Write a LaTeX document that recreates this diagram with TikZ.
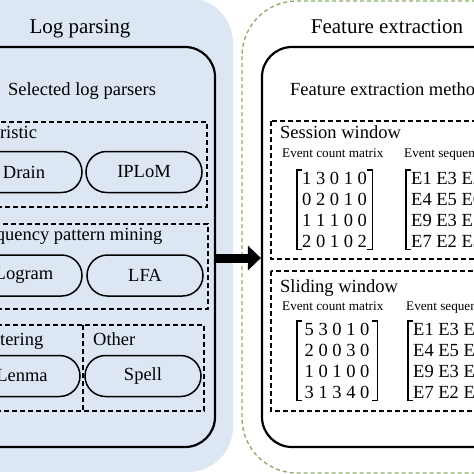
\documentclass[tikz,border=0pt]{standalone}
\usepackage{fontspec}
\setmainfont{Liberation Serif}
\usetikzlibrary{arrows.meta,shapes.misc}
\definecolor{parseblue}{HTML}{DCE7F3}
\definecolor{featgreen}{HTML}{8EAD68}

\begin{document}
\begin{tikzpicture}[x=1pt,y=-1pt,
  headtext/.style={font=\fontsize{21}{24}\selectfont, anchor=base, inner sep=0pt},
  grouptext/.style={font=\fontsize{18.5}{21}\selectfont, anchor=base west, inner sep=0pt},
  smalltext/.style={font=\fontsize{13.2}{15}\selectfont, anchor=base west, inner sep=0pt},
  method/.style={rounded rectangle, draw, line width=1.5pt, minimum width=116pt, minimum height=41pt, inner sep=0pt, font=\fontsize{18.5}{21}\selectfont},
  panel/.style={draw, line width=2.2pt, rounded corners=30pt, minimum width=270pt, minimum height=400pt},
  groupbox/.style={line width=1.3pt, dash pattern=on 5pt off 3pt},
  matrixtext/.style={font=\fontsize{18.5}{21}\selectfont, align=left, inner xsep=5pt, inner ysep=2pt, anchor=north west},
  bracket/.style={line width=1.1pt}]
\useasboundingbox (0,0) rectangle (474,474);
\clip (0,0) rectangle (474,474);

% Backgrounds
\fill[parseblue, rounded corners=45pt] (-80,-2) rectangle (233,472);
\draw[featgreen, line width=1.4pt, dash pattern=on 4pt off 3pt, rounded corners=55pt] (242,1) rectangle (580,473);

% Log parsing
\node[headtext] (lptitle) at (80,33) {Log parsing};
\node[panel] (lp) at (80,247) {};
\node[grouptext, anchor=base] (lpsub) at (82,95) {Selected log parsers};

\draw[groupbox] (-38,122) rectangle (207,207);
\node[grouptext] (heur) at (-31,138) {Heuristic};
\node[method] (drain) at (24,172) {Drain};
\node[method] (iplom) at (144,172) {IPLoM};

\draw[groupbox] (-38,224) rectangle (208,309);
\node[grouptext] (freq) at (-29,240) {Frequency pattern mining};
\node[method] (logram) at (24,275.5) {Logram};
\node[method] (lfa) at (145,275.5) {LFA};

\draw[groupbox] (-38,325) rectangle (204,411);
\draw[groupbox] (83,325) -- (83,411);
\node[grouptext] (clust) at (-34,345) {Clustering};
\node[grouptext] (other) at (93,345) {Other};
\node[method] (lenma) at (22,376) {Lenma};
\node[method] (spell) at (143,376) {Spell};

% Feature extraction
\node[headtext] (fetitle) at (387,33) {Feature extraction};
\node[panel] (fe) at (397,247) {};
\node[grouptext] (fesub) at (290,95) {Feature extraction methods};

\draw[groupbox] (271,121) rectangle (560,259);
\node[grouptext] (session) at (280,138) {Session window};
\node[smalltext] (scmlabel) at (282,157) {Event count matrix};
\node[smalltext] (sseqlabel) at (404,157) {Event sequence};
\node[matrixtext] (scm) at (297,170) {1 3 0 1 0\\0 2 0 1 0\\1 1 1 0 0\\2 0 1 0 2};
\node[matrixtext] (sseq) at (406,170) {E1 E3 E2 E5\\E4 E5 E6 E2\\E9 E3 E1 E4\\E7 E2 E3 E1};

\draw[groupbox] (271,271) rectangle (560,411);
\node[grouptext] (sliding) at (280,292) {Sliding window};
\node[smalltext] (wcmlabel) at (282,310) {Event count matrix};
\node[smalltext] (wseqlabel) at (406,310) {Event sequence};
\node[matrixtext, inner xsep=7.5pt] (wcm) at (297,321) {5 3 0 1 0\\2 0 0 3 0\\1 0 1 0 0\\3 1 3 4 0};
\node[matrixtext] (wseq) at (408,321) {E1 E3 E2 E5\\E4 E5 E6 E2\\E9 E3 E1 E4\\E7 E2 E3 E1};

% Brackets
\foreach \m in {scm,sseq,wcm,wseq} {
  \draw[bracket] ([xshift=5pt]\m.north west) -| (\m.south west) -- ++(5,0);
  \draw[bracket] ([xshift=-5pt]\m.north east) -| (\m.south east) -- ++(-5,0);
}

% Arrow
\coordinate (arrowrow) at (0,258);
\draw[line width=9pt, -{Triangle[length=13pt,width=24pt]}] (lp.east |- arrowrow) -- (fe.west |- arrowrow);
\end{tikzpicture}
\end{document}
